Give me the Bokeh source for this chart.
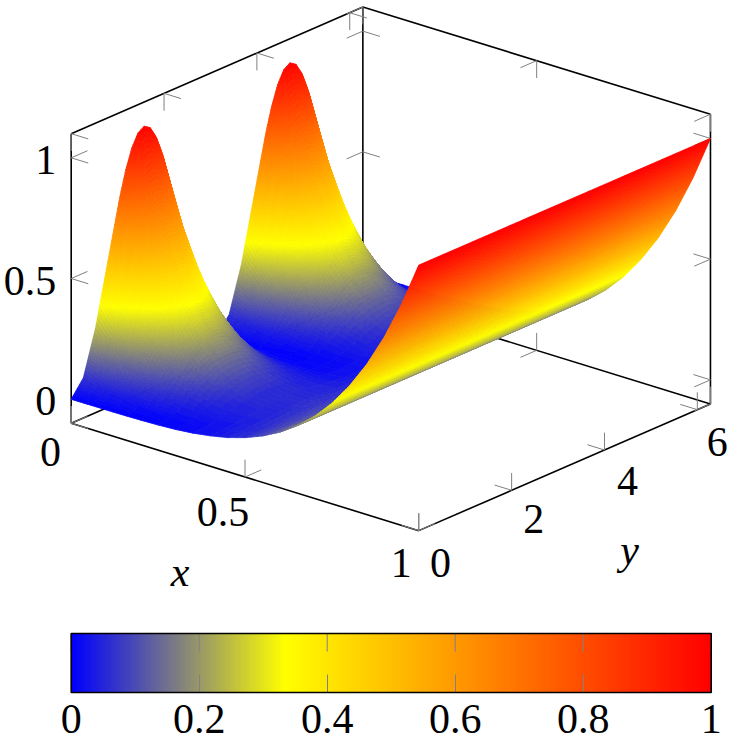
import numpy as np
from bokeh.core.properties import value
from bokeh.embed import file_html
from bokeh.models import FixedTicker, ColumnDataSource, LinearAxis, LinearColorMapper, Range1d
from bokeh.plotting import figure
from bokeh.resources import INLINE
from bokeh.transform import transform

# ---- data ----
x_samples = [0, .04, .08, .12, .16, .2, .25, .3, .35, .4, .45, .5, .55, .6, .65, .7, .75, .8, .85, .9, .95, 1]
y_samples = [0, .262, .524, .785, 1.047, 1.178, 1.309, 1.440, 1.571, 1.702, 1.833, 1.963, 2.094, 2.356, 2.618, 2.880, 3.142,
             3.403, 3.665, 3.927, 4.189, 4.320, 4.451, 4.581, 4.712, 4.843, 4.974, 5.105, 5.236, 5.498, 5.760, 6.021, 6.283]
z_rows = [
    [0, .067, .25, .5, .75, .854, .933, .983, 1, .983, .933, .854, .75, .5, .25, .067, 0, .067, .25, .5, .75, .854, .933, .983, 1, .983, .933, .854, .75, .5, .25, .067, 0],
    [0, .050, .188, .376, .564, .642, .701, .739, .751, .739, .701, .642, .564, .376, .188, .050, 0, .050, .188, .376, .564, .642, .701, .739, .751, .739, .701, .642, .564, .376, .188, .050, 0],
    [0, .037, .139, .279, .418, .476, .520, .548, .558, .548, .520, .476, .418, .279, .139, .037, 0, .037, .139, .279, .418, .476, .520, .548, .558, .548, .520, .476, .418, .279, .139, .037, 0],
    [0, .028, .102, .205, .307, .349, .381, .402, .409, .402, .381, .349, .307, .205, .102, .028, 0, .028, .102, .205, .307, .349, .381, .402, .409, .402, .381, .349, .307, .205, .102, .028, 0],
    [.001, .020, .074, .148, .222, .253, .276, .291, .296, .291, .276, .253, .222, .148, .074, .020, .001, .020, .074, .148, .222, .253, .276, .291, .296, .291, .276, .253, .222, .148, .074, .020, .001],
    [.002, .016, .054, .106, .159, .181, .197, .208, .211, .208, .197, .181, .159, .106, .054, .016, .002, .016, .054, .106, .159, .181, .197, .208, .211, .208, .197, .181, .159, .106, .054, .016, .002],
    [.004, .013, .037, .071, .104, .118, .129, .135, .137, .135, .129, .118, .104, .071, .037, .013, .004, .013, .037, .071, .104, .118, .129, .135, .137, .135, .129, .118, .104, .071, .037, .013, .004],
    [.008, .014, .029, .049, .070, .079, .085, .089, .091, .089, .085, .079, .070, .049, .029, .014, .008, .014, .029, .049, .070, .079, .085, .089, .091, .089, .085, .079, .070, .049, .029, .014, .008],
    [.015, .018, .027, .040, .052, .057, .061, .063, .064, .063, .061, .057, .052, .040, .027, .018, .015, .018, .027, .040, .052, .057, .061, .063, .064, .063, .061, .057, .052, .040, .027, .018, .015],
    [.026, .028, .033, .040, .047, .050, .052, .053, .054, .053, .052, .050, .047, .040, .033, .028, .026, .028, .033, .040, .047, .050, .052, .053, .054, .053, .052, .050, .047, .040, .033, .028, .026],
    [.041, .042, .045, .049, .052, .054, .055, .056, .056, .056, .055, .054, .052, .049, .045, .042, .041, .042, .045, .049, .052, .054, .055, .056, .056, .056, .055, .054, .052, .049, .045, .042, .041],
    [.063, .063, .064, .066, .068, .069, .070, .070, .070, .070, .070, .069, .068, .066, .064, .063, .063, .063, .064, .066, .068, .069, .070, .070, .070, .070, .070, .069, .068, .066, .064, .063, .063],
    [.092, .092, .092, .093, .094, .095, .095, .095, .095, .095, .095, .095, .094, .093, .092, .092, .092, .092, .092, .093, .094, .095, .095, .095, .095, .095, .095, .095, .094, .093, .092, .092, .092],
    [.130, .130, .130, .130, .131, .131, .131, .131, .131, .131, .131, .131, .131, .130, .130, .130, .130, .130, .130, .130, .131, .131, .131, .131, .131, .131, .131, .131, .131, .130, .130, .130, .130],
    [.179] * 33,
    [.240] * 33,
    [.316] * 33,
    [.410] * 33,
    [.522] * 33,
    [.656] * 33,
    [.815] * 33,
    [1.0] * 33,
]
x_ticks = [0, .5, 1]
y_ticks = [0, 2, 4, 6]
z_ticks = [0, .5, 1]
x_tick_labels = ["0", "0.5", "1"]
y_tick_labels = ["0", "2", "4", "6"]
z_tick_labels = ["0", "0.5", "1"]
colorbar_ticks = [0, .2, .4, .6, .8, 1]
colorbar_labels = ["0", "0.2", "0.4", "0.6", "0.8", "1"]

X_LIM = (0, 1)
Y_LIM = (0, 6.283)
Z_LIM = (-.1, 1.1)

# view: oblique projection of the 3D box on the page
ORIGIN = (70.7, 398.7)
EX = (347.6, 107.3)
EY = (46.42, -20.16)
EZ = 241.4


def proj(x, y, z):
    return (ORIGIN[0] + EX[0] * x + EY[0] * y,
            ORIGIN[1] + EX[1] * x + EY[1] * y - EZ * z)


# colour map
anchors = [(0, (0, 0, 255)), (1 / 3, (255, 255, 0)), (1, (255, 0, 0))]
levels = np.linspace(0, 1, 256)
palette = ["#%02x%02x%02x" % tuple(int(round(np.interp(t, [a[0] for a in anchors], [a[1][c] for a in anchors])))
                                   for c in range(3)) for t in levels]
mapper = LinearColorMapper(palette=palette, low=0, high=1)

TEXT_FONT = "Liberation Serif"
SIZE = "42px"
WIDTH, HEIGHT = 733, 740
BAR_LEFT, BAR_RIGHT, BAR_TOP, BAR_BOTTOM = 70.7, 710.7, 633, 692
TICK_GREY = "#808088"

p = figure(width=WIDTH, height=HEIGHT, x_range=Range1d(0, WIDTH), y_range=Range1d(BAR_BOTTOM, 0),
           x_axis_type=None, y_axis_type=None, toolbar_location=None, output_backend="svg",
           min_border_left=0, min_border_right=0, min_border_top=0, min_border_bottom=HEIGHT - BAR_BOTTOM,
           outline_line_color=None)
p.grid.visible = False
p.background_fill_color = "white"

# box lines
x0, x1 = X_LIM
y0, y1 = Y_LIM
z0, z1 = Z_LIM
box_edges = [
    ((x0, y0, z0), (x0, y0, z1)), ((x0, y0, z1), (x0, y1, z1)), ((x0, y1, z1), (x0, y1, z0)),
    ((x0, y1, z0), (x0, y0, z0)), ((x0, y1, z1), (x1, y1, z1)), ((x1, y1, z1), (x1, y1, z0)),
    ((x1, y1, z0), (x0, y1, z0)), ((x0, y0, z0), (x1, y0, z0)), ((x1, y0, z0), (x1, y1, z0)),
]
bx0, by0, bx1, by1 = [], [], [], []
for a, b in box_edges:
    pa, pb = proj(*a), proj(*b)
    bx0.append(pa[0]); by0.append(pa[1]); bx1.append(pb[0]); by1.append(pb[1])
p.segment(bx0, by0, bx1, by1, line_color="black", line_width=1.6)

# tick marks: tick direction lengths in data units
TX, TY, TZ = .049, .35, .072
tick_segs = []
for t in x_ticks:
    tick_segs += [((t, y0, z0), (0, TY, 0)), ((t, y0, z0), (0, 0, TZ)),
                  ((t, y1, z0), (0, -TY, 0)), ((t, y1, z0), (0, 0, TZ)),
                  ((t, y1, z1), (0, -TY, 0)), ((t, y1, z1), (0, 0, -TZ))]
for t in y_ticks:
    tick_segs += [((x1, t, z0), (-TX, 0, 0)), ((x1, t, z0), (0, 0, TZ)),
                  ((x0, t, z0), (TX, 0, 0)), ((x0, t, z0), (0, 0, TZ)),
                  ((x0, t, z1), (TX, 0, 0)), ((x0, t, z1), (0, 0, -TZ))]
for t in z_ticks:
    tick_segs += [((x0, y0, t), (TX, 0, 0)), ((x0, y0, t), (0, TY, 0)),
                  ((x1, y1, t), (-TX, 0, 0)), ((x1, y1, t), (0, -TY, 0)),
                  ((x0, y1, t), (TX, 0, 0)), ((x0, y1, t), (0, -TY, 0))]
tx0, ty0, tx1, ty1 = [], [], [], []
for a, d in tick_segs:
    pa = proj(*a)
    pb = proj(a[0] + d[0], a[1] + d[1], a[2] + d[2])
    tx0.append(pa[0]); ty0.append(pa[1]); tx1.append(pb[0]); ty1.append(pb[1])
p.segment(tx0, ty0, tx1, ty1, line_color="#808080", line_width=1)

# surface, far cells first (small x, large y)
X = np.array(x_samples)
Y = np.array(y_samples)
Z = np.array(z_rows)
STEP = .012
polys_x, polys_y, vals = [], [], []
for i in range(len(X) - 1):
    for j in range(len(Y) - 2, -1, -1):
        z00, z01, z10, z11 = Z[i, j], Z[i, j + 1], Z[i + 1, j], Z[i + 1, j + 1]
        nu = int(np.clip(np.ceil(max(abs(z10 - z00), abs(z11 - z01)) / STEP), 1, 12))
        nv = int(np.clip(np.ceil(max(abs(z01 - z00), abs(z11 - z10)) / STEP), 1, 12))
        us = np.linspace(0, 1, nu + 1)
        vs = np.linspace(0, 1, nv + 1)
        xs_c = X[i] + us * (X[i + 1] - X[i])
        ys_c = Y[j] + vs * (Y[j + 1] - Y[j])
        zz = (np.outer(1 - us, 1 - vs) * z00 + np.outer(1 - us, vs) * z01 +
              np.outer(us, 1 - vs) * z10 + np.outer(us, vs) * z11)
        for a in range(nu):
            for b in range(nv - 1, -1, -1):
                corners = [(a, b), (a + 1, b), (a + 1, b + 1), (a, b + 1)]
                pts = [proj(xs_c[m], ys_c[n], zz[m, n]) for m, n in corners]
                polys_x.append([q[0] for q in pts])
                polys_y.append([q[1] for q in pts])
                vals.append(float(np.mean([zz[m, n] for m, n in corners])))
src = ColumnDataSource(dict(xs=polys_x, ys=polys_y, v=vals))
p.patches("xs", "ys", source=src, fill_color=transform("v", mapper),
          line_color=transform("v", mapper), line_width=.8)

# tick labels (offset from the tick positions in page pixels)
XL_OFF = [(-20.7, 29), (-22, 35), (-17.5, 32)]
YL_OFF = [(21.7, 32), (22, 29), (23, 31), (20, 32)]
lx, ly, lt = [], [], []
for t, s, o in zip(x_ticks, x_tick_labels, XL_OFF):
    q = proj(t, y0, z0)
    lx.append(q[0] + o[0]); ly.append(q[1] + o[1]); lt.append(s)
for t, s, o in zip(y_ticks, y_tick_labels, YL_OFF):
    q = proj(x1, t, z0)
    lx.append(q[0] + o[0]); ly.append(q[1] + o[1]); lt.append(s)
p.text(lx, ly, text=lt, text_font=value(TEXT_FONT), text_font_size=SIZE, text_color="black",
       text_align="center", text_baseline="middle")
zx, zy, zt = [], [], []
for t, s in zip(z_ticks, z_tick_labels):
    q = proj(x0, y0, t)
    zx.append(q[0] - 15); zy.append(q[1] + 2); zt.append(s)
p.text(zx, zy, text=zt, text_font=value(TEXT_FONT), text_font_size=SIZE, text_color="black",
       text_align="right", text_baseline="middle")
# axis labels
ax = proj(.31, y0, z0)
ay = proj(x1, 4.5, z0)
p.text([ax[0] + 1, ay[0] + 2], [ax[1] + 115, ay[1] + 110], text=["x", "y"], text_font=value(TEXT_FONT),
       text_font_size=SIZE, text_font_style="italic", text_color="black",
       text_align="center", text_baseline="middle")

# colour bar on its own 0..1 scale
p.extra_x_ranges["bar"] = Range1d(-BAR_LEFT / (BAR_RIGHT - BAR_LEFT), (WIDTH - BAR_LEFT) / (BAR_RIGHT - BAR_LEFT))
p.image(image=[levels[None, :]], x=0, y=BAR_TOP, dw=1, dh=BAR_BOTTOM - BAR_TOP, color_mapper=mapper, x_range_name="bar")
p.segment(colorbar_ticks, [BAR_TOP] * 6, colorbar_ticks, [BAR_TOP + 18] * 6, line_color=TICK_GREY, line_width=1,
          x_range_name="bar")
xa = LinearAxis(x_range_name="bar", ticker=FixedTicker(ticks=colorbar_ticks),
                major_label_overrides={t: s for t, s in zip(colorbar_ticks, colorbar_labels)})
xa.axis_line_color = None
xa.major_tick_in = 18
xa.major_tick_out = 0
xa.major_tick_line_color = TICK_GREY
xa.major_tick_line_width = 1
xa.minor_tick_line_color = None
xa.major_label_text_font = TEXT_FONT
xa.major_label_text_font_size = SIZE
xa.major_label_text_color = "black"
xa.major_label_standoff = 12
p.add_layout(xa, "below")
p.quad(left=[0], right=[1], top=[BAR_TOP], bottom=[BAR_BOTTOM], fill_color=None, line_color="black", line_width=1.6,
       x_range_name="bar", level="overlay")

open("out.html", "w").write(file_html(p, INLINE))
